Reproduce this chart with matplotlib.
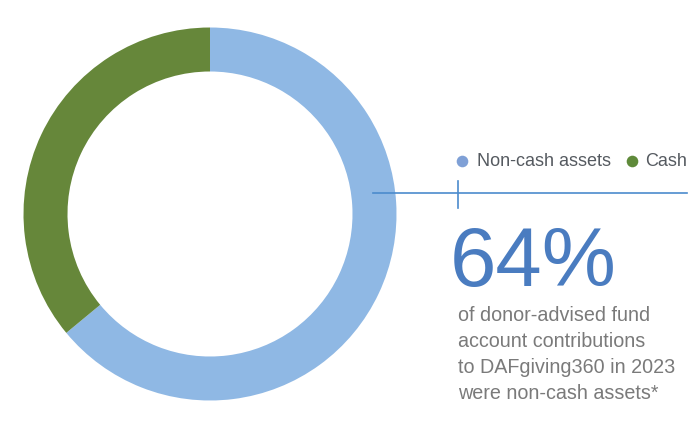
import matplotlib.pyplot as plt

# Share of DAF contributions in 2023
labels = ['Non-cash assets', 'Cash']
shares = [64, 36]
colors = ['#8fb8e4', '#66873a']
dot_colors = ['#7fa0d6', '#5f8a3a']
headline = '64%'
caption = ['of donor-advised fund', 'account contributions',
           'to DAFgiving360 in 2023', 'were non-cash assets*']

W, H = 700, 426
fig = plt.figure(figsize=(W / 100, H / 100), dpi=100)
ax = fig.add_axes([0, 0, 1, 1])

# donut, starting at the top, clockwise
ax.pie(shares, colors=colors, startangle=90, counterclock=False,
       center=(210, H - 214), radius=186.5,
       wedgeprops=dict(width=44, linewidth=0), frame=True)
ax.set_xlim(0, W)
ax.set_ylim(0, H)
ax.set_aspect('equal')
ax.axis('off')

# pointer line with tick
line_col = '#4b8bcd'
ax.plot([373, 687], [H - 192.5, H - 192.5], color=line_col, lw=1.2)
ax.plot([458, 458], [H - 181, H - 208], color=line_col, lw=1.2)

# legend
font = 'Liberation Sans'
ax.scatter([462], [H - 161], s=70, color=dot_colors[0], lw=0)
ax.text(477, H - 161, labels[0], fontsize=13, color='#555a60', family=font, va='center')
ax.scatter([632], [H - 161], s=70, color=dot_colors[1], lw=0)
ax.text(645, H - 161, labels[1], fontsize=13, color='#555a60', family=font, va='center')

# big number and caption
ax.text(450, H - 286, headline, fontsize=60, color='#4a7cc0', family=font,
        va='baseline')
for i, line in enumerate(caption):
    ax.text(458, H - (321 + 26 * i), line, fontsize=14.2, color='#7a7a7a',
            family=font, va='baseline')

fig.savefig('out.png', dpi=100)
